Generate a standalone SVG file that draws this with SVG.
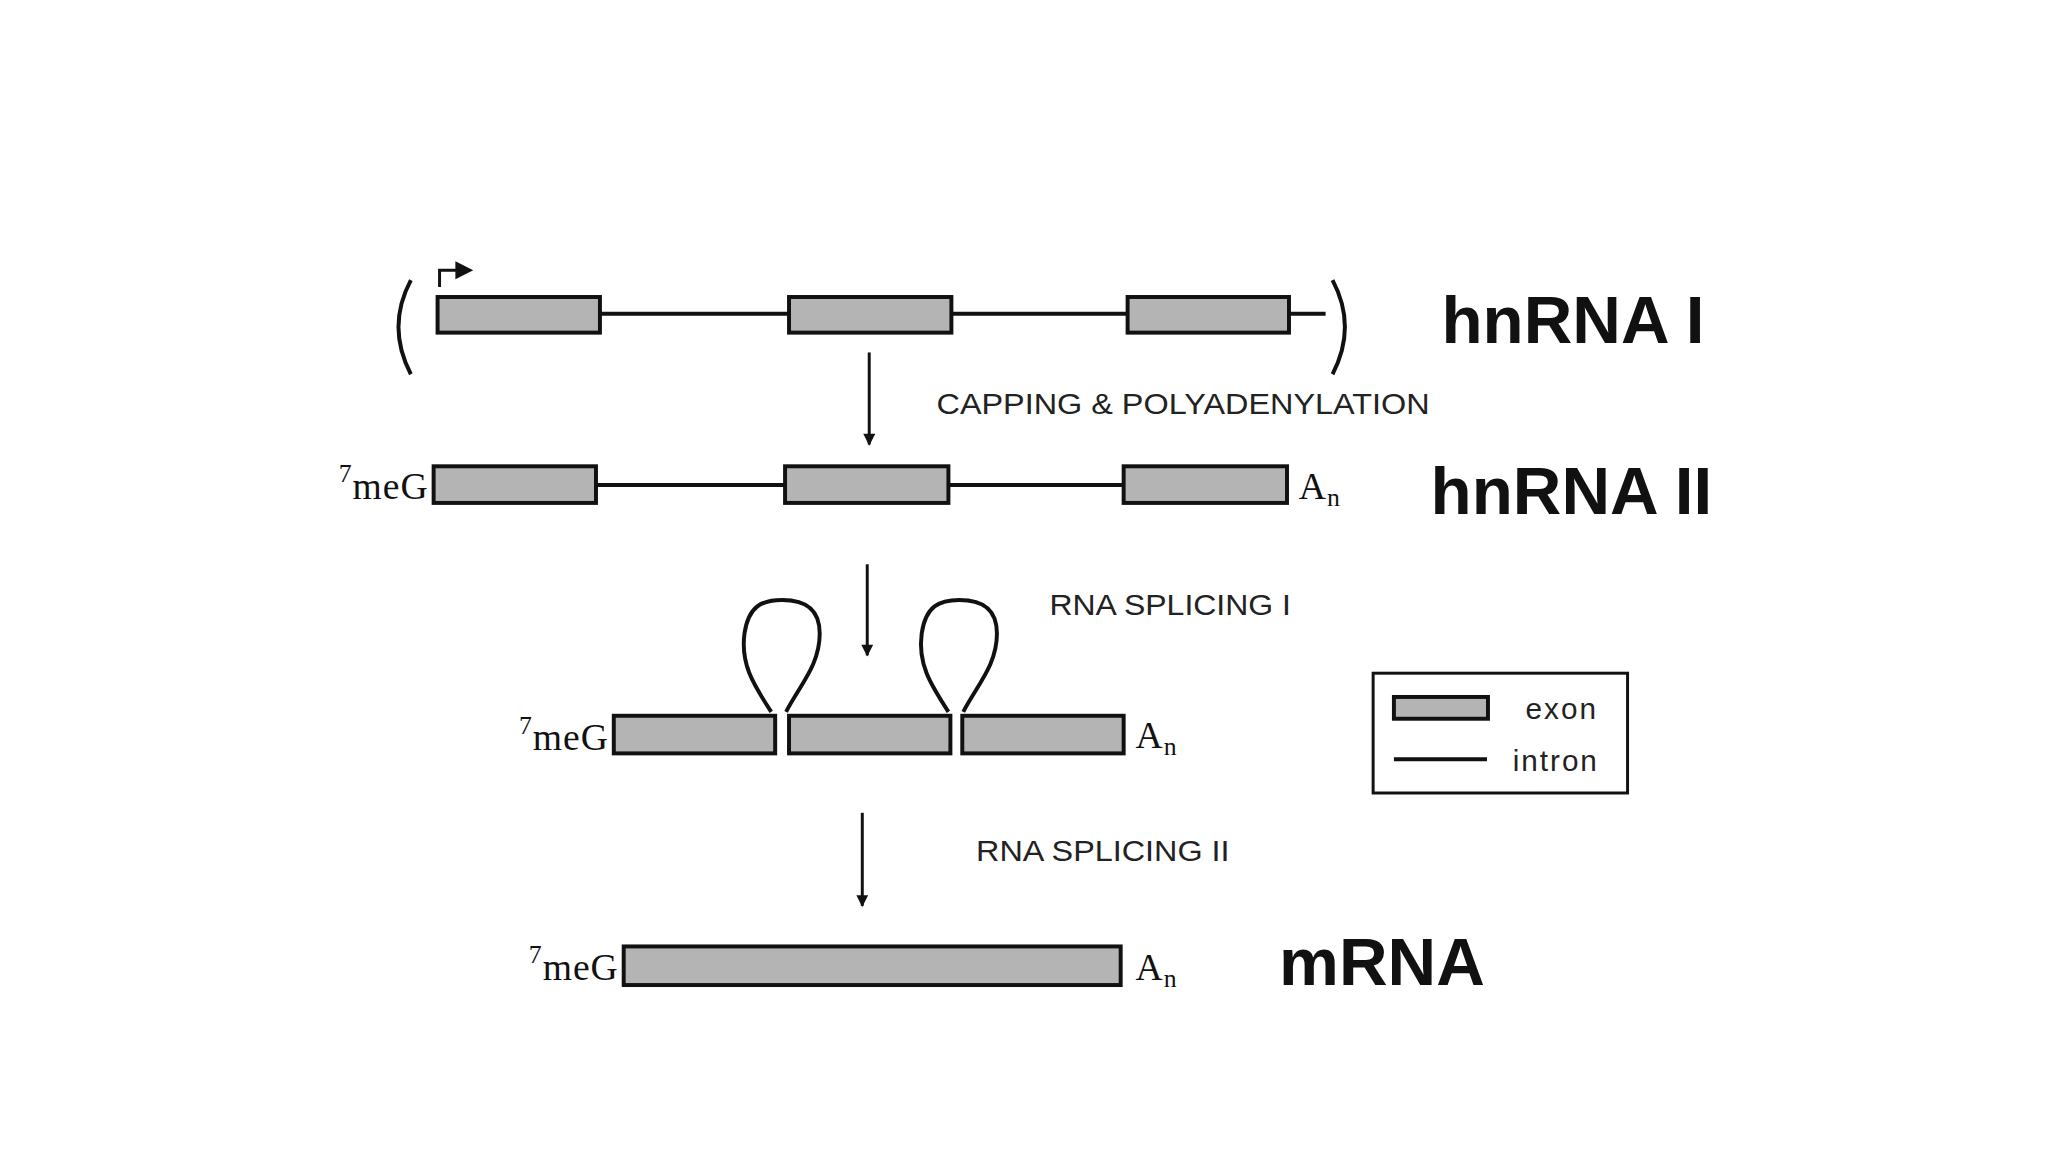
<svg xmlns="http://www.w3.org/2000/svg" width="2048" height="1152" viewBox="0 0 2048 1152">
<style>
.ex{fill:#b4b4b4;stroke:#111;stroke-width:4}
.in{stroke:#111;stroke-width:4;fill:none}
.big{font-family:"Liberation Sans",Arial,sans-serif;font-weight:bold;font-size:68px;fill:#111}
.lab{font-family:"Liberation Sans",Arial,sans-serif;font-size:30px;fill:#222}
.ser{font-family:"Liberation Serif","Times New Roman",serif;font-size:38px;fill:#111;letter-spacing:1px}
.cap{text-anchor:end}
.sup{font-size:26px}
.arr{stroke:#111;stroke-width:3;fill:none}
</style>
<defs>
<marker id="ah2" viewBox="0 0 10 10" refX="9" refY="5" markerWidth="14" markerHeight="12" orient="auto" markerUnits="userSpaceOnUse"><path d="M0,0L10,5L0,10z" fill="#111"/></marker></defs>
<rect width="2048" height="1152" fill="#fff"/>
<g transform="scale(0.99)">
<g id="connectors">
<line class="arr" x1="878" y1="356" x2="878" y2="449" marker-end="url(#ah2)"/>
<line class="arr" x1="876" y1="570" x2="876" y2="662" marker-end="url(#ah2)"/>
<line class="arr" x1="871" y1="821" x2="871" y2="915" marker-end="url(#ah2)"/>
</g>
<g id="hnRNA1">
<path class="in" d="M415,283 Q390,330 415,378"/>
<path class="in" d="M1346,283 Q1371,330 1346,378"/>
<line class="in" x1="606" y1="317" x2="797" y2="317"/>
<line class="in" x1="961" y1="317" x2="1139" y2="317"/>
<line class="in" x1="1302" y1="317" x2="1339" y2="317"/>
<rect class="ex" x="442" y="300" width="164" height="36"/>
<rect class="ex" x="797" y="300" width="164" height="36"/>
<rect class="ex" x="1139" y="300" width="163" height="36"/>
<path d="M444,290 L444,273 L462,273" stroke="#111" stroke-width="3" fill="none"/>
<path d="M460,264 L478,273 L460,282z" fill="#111"/>
<text class="big" x="1456" y="346">hnRNA I</text>
</g>
<text class="lab" x="946" y="418" textLength="498" lengthAdjust="spacingAndGlyphs">CAPPING &amp; POLYADENYLATION</text>
<g id="hnRNA2">
<line class="in" x1="602" y1="490" x2="793" y2="490"/>
<line class="in" x1="958" y1="490" x2="1135" y2="490"/>
<rect class="ex" x="438" y="471" width="164" height="37"/>
<rect class="ex" x="793" y="471" width="165" height="37"/>
<rect class="ex" x="1135" y="471" width="165" height="37"/>
<text class="ser cap" x="433" y="504"><tspan class="sup" dy="-17">7</tspan><tspan dy="17">meG</tspan></text>
<text class="ser" x="1312" y="504">A<tspan class="sup" dy="7">n</tspan></text>
<text class="big" x="1445" y="519">hnRNA II</text>
</g>
<text class="lab" x="1060" y="621" textLength="244" lengthAdjust="spacingAndGlyphs">RNA SPLICING I</text>
<g id="splicing">
<path class="in" stroke-width="6" d="M779,719 C760,690 748,670 752,640 C756,612 770,606 790,606 C812,606 828,614 828,640 C828,672 808,692 794,719"/>
<path class="in" stroke-width="6" d="M958,719 C939,690 927,670 931,640 C935,612 949,606 969,606 C991,606 1007,614 1007,640 C1007,672 987,692 973,719"/>
<rect class="ex" x="620" y="723" width="163" height="38"/>
<rect class="ex" x="797" y="723" width="163" height="38"/>
<rect class="ex" x="972" y="723" width="163" height="38"/>
<text class="ser cap" x="615" y="758"><tspan class="sup" dy="-17">7</tspan><tspan dy="17">meG</tspan></text>
<text class="ser" x="1147" y="756">A<tspan class="sup" dy="7">n</tspan></text>
</g>
<g id="legend">
<rect x="1387" y="680" width="257" height="121" fill="#fff" stroke="#111" stroke-width="3"/>
<rect class="ex" x="1408" y="704" width="95" height="22"/>
<line class="in" x1="1408" y1="767" x2="1502" y2="767"/>
<text class="lab" x="1541" y="726" font-size="32" letter-spacing="2">exon</text>
<text class="lab" x="1528" y="779" font-size="32" letter-spacing="2">intron</text>
</g>
<text class="lab" x="986" y="870" textLength="256" lengthAdjust="spacingAndGlyphs">RNA SPLICING II</text>
<g id="mRNA">
<rect class="ex" x="630" y="956" width="502" height="39"/>
<text class="ser cap" x="625" y="990"><tspan class="sup" dy="-17">7</tspan><tspan dy="17">meG</tspan></text>
<text class="ser" x="1147" y="990">A<tspan class="sup" dy="7">n</tspan></text>
<text class="big" x="1292" y="995">mRNA</text>
</g>
</g>
</svg>
